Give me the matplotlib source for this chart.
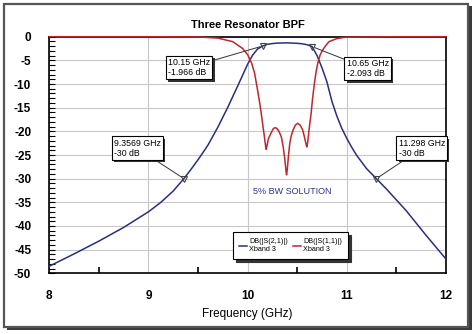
import matplotlib
matplotlib.use('Agg')
import matplotlib.pyplot as plt
import matplotlib.patheffects as pe
from matplotlib.patches import Rectangle
from matplotlib.lines import Line2D

plt.rcParams['font.family'] = ['Liberation Sans', 'DejaVu Sans']
plt.rcParams['axes.unicode_minus'] = False

# S21 (insertion)
s21_f = [8.0, 8.25, 8.5, 8.75, 9.0, 9.125, 9.25, 9.3569, 9.43, 9.5, 9.6, 9.7,
         9.8, 9.9, 10.0, 10.05, 10.1, 10.15, 10.2, 10.25, 10.3, 10.4, 10.5,
         10.55, 10.6, 10.65, 10.7, 10.75, 10.8, 10.85, 10.9, 10.95, 11.0, 11.05,
         11.1, 11.2, 11.298, 11.4, 11.5, 11.6, 11.7, 11.8, 11.9, 12.0]
s21_db = [-48.5, -45.9, -43.2, -40.3, -37.0, -35.0, -32.6, -30.0, -28.0, -26.0,
          -22.9, -19.1, -14.9, -10.4, -5.8, -3.9, -2.6, -1.966, -1.6, -1.45,
          -1.35, -1.3, -1.4, -1.5, -1.7, -2.093, -4.0, -6.6, -9.6, -13.7, -16.8,
          -19.4, -21.5, -23.4, -25.1, -27.9, -30.0, -32.2, -34.5, -36.8, -39.4,
          -42.0, -44.5, -47.0]

# S11 (return loss)
s11_f = [8.0, 9.0, 9.5, 9.7, 9.85, 9.95, 10.0, 10.04, 10.07, 10.1, 10.12, 10.137,
         10.155, 10.17, 10.18, 10.187, 10.195, 10.21, 10.237, 10.26, 10.28, 10.3,
         10.32, 10.34, 10.36, 10.375, 10.385, 10.392, 10.4, 10.41, 10.425, 10.44,
         10.455, 10.48, 10.505, 10.53, 10.555, 10.575, 10.59, 10.596, 10.605,
         10.62, 10.64, 10.655, 10.673, 10.69, 10.707, 10.73, 10.757, 10.79,
         10.82, 10.9, 10.99, 11.5, 12.0]
s11_db = [0.0, 0.0, -0.05, -0.3, -1.05, -2.5, -3.8, -5.6, -7.7, -11.3, -13.8,
          -16.2, -19.0, -21.3, -23.0, -23.8, -23.0, -21.5, -20.3, -19.4, -19.2,
          -19.5, -20.2, -21.2, -23.5, -26.0, -28.0, -29.2, -28.0, -25.5, -22.5,
          -20.9, -19.9, -18.7, -18.3, -18.7, -19.7, -21.4, -22.8, -23.3, -22.4,
          -19.5, -16.2, -13.0, -9.9, -7.4, -5.6, -3.9, -2.8, -1.8, -1.05, -0.4,
          -0.1, 0.0, 0.0]

marker_f = [10.15, 10.65, 9.3569, 11.298]
marker_db = [-1.966, -2.093, -30, -30]
marker_freq_txt = ['10.15', '10.65', '9.3569', '11.298']
marker_db_txt = ['-1.966', '-2.093', '-30', '-30']

blue = '#2a2f7c'
red = '#c0262c'

fig = plt.figure(figsize=(4.74, 3.34), dpi=100)

# outer frame with shadow
fig.patches.append(Rectangle((7 / 474, 1 - 330 / 334), 465 / 474, 324 / 334,
                             transform=fig.transFigure, facecolor='#3a3a3a',
                             edgecolor='none', zorder=0))
fig.patches.append(Rectangle((4 / 474, 1 - 327 / 334), 464 / 474, 323 / 334,
                             transform=fig.transFigure, facecolor='white',
                             edgecolor='#555555', lw=1.6, zorder=1))

ax = fig.add_axes([49.3 / 474, 1 - 273.3 / 334, 396.7 / 474, 236.6 / 334])
ax.set_zorder(2)

ax.plot(s21_f, s21_db, color=blue, lw=1.1, zorder=3)
ax.plot(s11_f, s11_db, color=red, lw=1.1, zorder=3, clip_on=False)
ax.plot(marker_f, marker_db, 'v', ms=5, mfc='none', mec='#444444', mew=0.8, zorder=4)

ax.set_xlim(8, 12)
ax.set_ylim(-50, 0)
ax.set_xticks([8, 9, 10, 11, 12])
ax.set_xticks([8.5, 9.5, 10.5, 11.5], minor=True)
ax.set_yticks(range(-50, 1, 5))
ax.set_yticks(range(-50, 1, 1), minor=True)
ax.tick_params(axis='x', which='major', length=0, pad=12, labelsize=8.5)
ax.tick_params(axis='x', which='minor', direction='in', length=4, width=1.2)
ax.tick_params(axis='y', which='both', direction='in', length=4, width=0.8,
               labelsize=8.5, pad=13)
for lbl in ax.get_xticklabels() + ax.get_yticklabels():
    lbl.set_fontweight('bold')
ax.grid(True, which='major', color='#c8c8c8', lw=0.8)
for s in ax.spines.values():
    s.set_linewidth(1.2)

ax.set_title('Three Resonator BPF', fontsize=8.0, fontweight='bold', pad=6)
ax.set_xlabel('Frequency (GHz)', fontsize=8.5, labelpad=4)

# callout boxes
box_pos = [(9.41, -6.5), (11.21, -6.7), (8.89, -23.6), (11.755, -23.6)]
for i in range(len(marker_f)):
    txt = marker_freq_txt[i] + ' GHz\n' + marker_db_txt[i] + ' dB'
    bx, by = box_pos[i]
    ann = ax.annotate(txt, xy=(marker_f[i], marker_db[i]), xytext=(bx, by),
                      ha='center', va='center', multialignment='left',
                      fontsize=6.3, zorder=6, annotation_clip=False,
                      bbox=dict(boxstyle='square,pad=0.25', fc='white', ec='black', lw=0.8),
                      arrowprops=dict(arrowstyle='-', color='#333333', lw=0.7,
                                      shrinkA=0, shrinkB=2))
    ann.get_bbox_patch().set_path_effects(
        [pe.withSimplePatchShadow(offset=(1.6, -1.6), shadow_rgbFace='#333333', alpha=1.0)])

ax.text(10.45, -32.7, '5% BW SOLUTION', color='#2a3585', fontsize=6.5,
        ha='center', va='center')

handles = [Line2D([], [], color=blue, lw=1.1), Line2D([], [], color=red, lw=1.1)]
leg = ax.legend(handles, ['DB(|S(2,1)|)\nXband 3', 'DB(|S(1,1)|)\nXband 3'],
                ncol=2, fontsize=5.2, loc='lower left', bbox_to_anchor=(0.455, 0.045),
                fancybox=False, edgecolor='black', framealpha=1,
                shadow={'color': '#333333', 'alpha': 1.0, 'ox': 2, 'oy': -2},
                handlelength=1.1, handletextpad=0.3, columnspacing=0.7,
                borderpad=0.8)
leg.get_frame().set_linewidth(0.8)

fig.savefig('out.png', dpi=100)
